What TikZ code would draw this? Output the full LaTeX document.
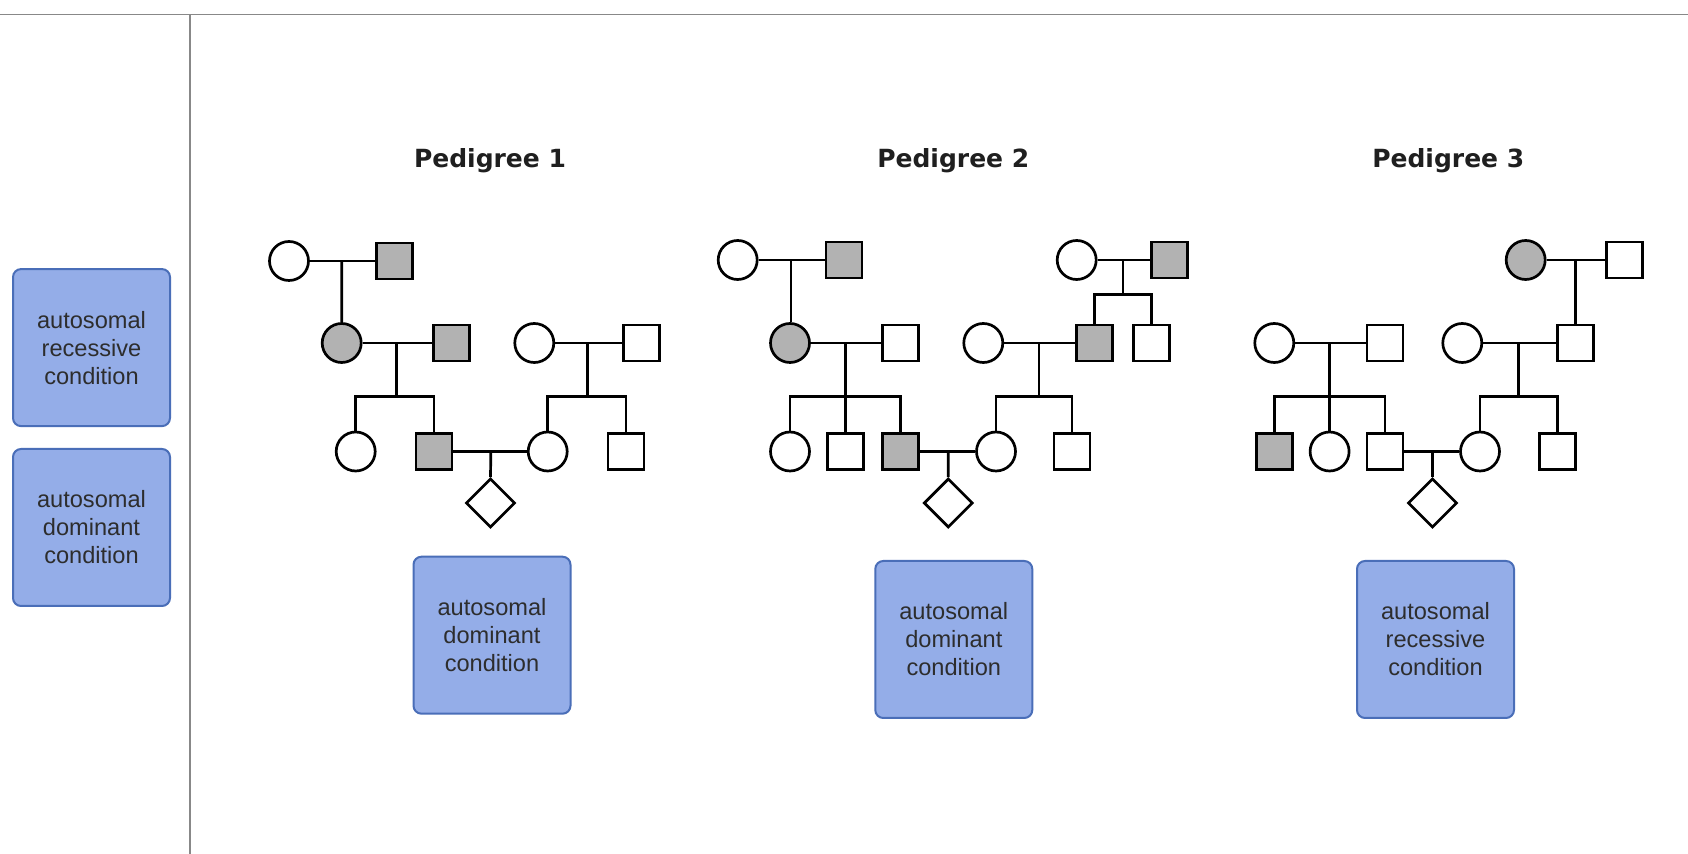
\documentclass[tikz,border=0pt]{standalone}
\usepackage{fontspec}
\setmainfont{Liberation Sans}
\newfontfamily\titlefont{DejaVu Sans}
\usetikzlibrary{shapes.geometric,calc}
\definecolor{affgray}{RGB}{178,178,178}
\definecolor{boxfill}{RGB}{148,173,232}
\definecolor{boxedge}{RGB}{74,110,184}
\definecolor{boxtext}{RGB}{45,45,45}
\definecolor{rulegray}{RGB}{136,136,136}
\tikzset{
  sym/.style={draw=black, line width=1.35pt, fill=white, inner sep=0pt},
  fem/.style={sym, circle, minimum size=19.5pt},
  mal/.style={sym, rectangle, minimum size=18pt},
  unk/.style={sym, diamond, aspect=1, minimum size=24.5pt},
  aff/.style={fill=affgray},
  rel/.style={line width=1.35pt, black},
  ptitle/.style={font=\titlefont\bfseries\fontsize{12.5}{15}\selectfont, text=black!88},
  ansbox/.style={draw=boxedge, line width=1pt, fill=boxfill, rounded corners=4pt,
    minimum width=78.5pt, minimum height=78.5pt, align=center, text=boxtext,
    font=\fontsize{11.8}{14}\selectfont, inner sep=0pt}
}
\begin{document}
\begin{tikzpicture}[x=0.5pt, y=-0.5pt]
\useasboundingbox (0,0) rectangle (1688,854);
\fill[white] (0,0) rectangle (1688,854);
% frame rules
\coordinate (tl) at (0,15);
\coordinate (tr) at (1688,15);
\coordinate (vt) at (190,15);
\coordinate (vb) at (190,854);
\draw[rulegray, line width=0.5pt] (tl) -- (tr);
\draw[rulegray, line width=1pt] (vt) -- (vb);

% left answer boxes
\node[ansbox] (L1) at (91.5,347.6) {autosomal\\recessive\\condition};
\node[ansbox] (L2) at (91.5,527.5) {autosomal\\dominant\\condition};

% ---------------- Pedigree 1 ----------------
\node[ptitle] (t1) at (490,161) {Pedigree 1};
\node[fem] (a1) at (289,261) {};
\node[mal,aff] (a2) at (394.5,261) {};
\node[fem,aff] (b1) at (341.7,343) {};
\node[mal,aff] (b2) at (451.7,343) {};
\node[fem] (b3) at (534.3,343) {};
\node[mal] (b4) at (641.3,343) {};
\node[fem] (c1) at (355.7,451.5) {};
\node[mal,aff] (c2) at (434,451.5) {};
\node[fem] (c3) at (547.7,451.5) {};
\node[mal] (c4) at (626,451.5) {};
\node[unk] (d1) at (490.5,503) {};
\coordinate (ma) at ($(a1)!0.5!(a2)$);
\coordinate (mb) at ($(b1)!0.5!(b2)$);
\coordinate (mb2) at ($(b3)!0.5!(b4)$);
\coordinate (mc) at ($(c2)!0.5!(c3)$);
\coordinate (s1) at (0,396.7);
\draw[rel] (a1) -- (a2);
\draw[rel] (ma) -- (b1.north);
\draw[rel] (b1) -- (b2);
\draw[rel] (b3) -- (b4);
\draw[rel] (mb) -- (mb |- s1);
\draw[rel] (mb2) -- (mb2 |- s1);
\draw[rel] (c1.north) -- (c1 |- s1) -- (c2 |- s1) -- (c2.north);
\draw[rel] (c3.north) -- (c3 |- s1) -- (c4 |- s1) -- (c4.north);
\draw[rel] (c2) -- (c3);
\draw[rel] (mc) -- (d1.north);

% ---------------- Pedigree 2 ----------------
\node[ptitle] (t2) at (953.3,161) {Pedigree 2};
\node[fem] (e1) at (737.7,260) {};
\node[mal,aff] (e2) at (844,260) {};
\node[fem] (h1) at (1076.7,260) {};
\node[mal,aff] (h2) at (1169.5,260) {};
\node[fem,aff] (f1) at (790,343) {};
\node[mal] (f2) at (900.5,343) {};
\node[fem] (f3) at (983.3,343) {};
\node[mal,aff] (f4) at (1094.5,343) {};
\node[mal] (f5) at (1151.2,343) {};
\node[fem] (g1) at (790,451.5) {};
\node[mal] (g2) at (845.2,451.5) {};
\node[mal,aff] (g3) at (900.5,451.5) {};
\node[fem] (g4) at (996,451.5) {};
\node[mal] (g5) at (1072,451.5) {};
\node[unk] (d2) at (948.3,503) {};
\coordinate (me) at ($(e1)!0.5!(e2)$);
\coordinate (mh) at ($(h1)!0.5!(h2)$);
\coordinate (mf) at ($(f1)!0.5!(f2)$);
\coordinate (mf2) at ($(f3)!0.5!(f4)$);
\coordinate (mg) at ($(g3)!0.5!(g4)$);
\coordinate (s2h) at (0,294.3);
\draw[rel] (e1) -- (e2);
\draw[rel] (me) -- (me |- f1.north);
\draw[rel] (h1) -- (h2);
\draw[rel] (mh) -- (mh |- s2h);
\draw[rel] (f4.north) -- (f4 |- s2h) -- (f5 |- s2h) -- (f5.north);
\draw[rel] (f1) -- (f2);
\draw[rel] (f3) -- (f4);
\draw[rel] (mf) -- (mf |- s1);
\draw[rel] (mf2) -- (mf2 |- s1);
\draw[rel] (g1.north) -- (g1 |- s1) -- (g3 |- s1) -- (g3.north);
\draw[rel] (g2 |- s1) -- (g2.north);
\draw[rel] (g4.north) -- (g4 |- s1) -- (g5 |- s1) -- (g5.north);
\draw[rel] (g3) -- (g4);
\draw[rel] (mg) -- (d2.north);

% ---------------- Pedigree 3 ----------------
\node[ptitle] (t3) at (1448.3,161) {Pedigree 3};
\node[fem,aff] (i1) at (1525.7,260) {};
\node[mal] (i2) at (1624.7,260) {};
\node[fem] (j1) at (1274.3,343) {};
\node[mal] (j2) at (1385,343) {};
\node[fem] (j3) at (1462.3,343) {};
\node[mal] (j4) at (1575.2,343) {};
\node[mal,aff] (k1) at (1274.3,451.5) {};
\node[fem] (k2) at (1329.6,451.5) {};
\node[mal] (k3) at (1385,451.5) {};
\node[fem] (k4) at (1480,451.5) {};
\node[mal] (k5) at (1557.2,451.5) {};
\node[unk] (d3) at (1432.5,503) {};
\coordinate (mi) at ($(i1)!0.5!(i2)$);
\coordinate (mj) at ($(j1)!0.5!(j2)$);
\coordinate (mj2) at ($(j3)!0.5!(j4)$);
\coordinate (mk) at ($(k3)!0.5!(k4)$);
\draw[rel] (i1) -- (i2);
\draw[rel] (mi) -- (mi |- j4.north);
\draw[rel] (j1) -- (j2);
\draw[rel] (j3) -- (j4);
\draw[rel] (mj) -- (mj |- s1);
\draw[rel] (mj2) -- (mj2 |- s1);
\draw[rel] (k1.north) -- (k1 |- s1) -- (k3 |- s1) -- (k3.north);
\draw[rel] (k2 |- s1) -- (k2.north);
\draw[rel] (k4.north) -- (k4 |- s1) -- (k5 |- s1) -- (k5.north);
\draw[rel] (k3) -- (k4);
\draw[rel] (mk) -- (d3.north);

% answer boxes under pedigrees
\node[ansbox] (A1) at (492,635.2) {autosomal\\dominant\\condition};
\node[ansbox] (A2) at (953.8,639.5) {autosomal\\dominant\\condition};
\node[ansbox] (A3) at (1435.5,639.5) {autosomal\\recessive\\condition};
\end{tikzpicture}
\end{document}
